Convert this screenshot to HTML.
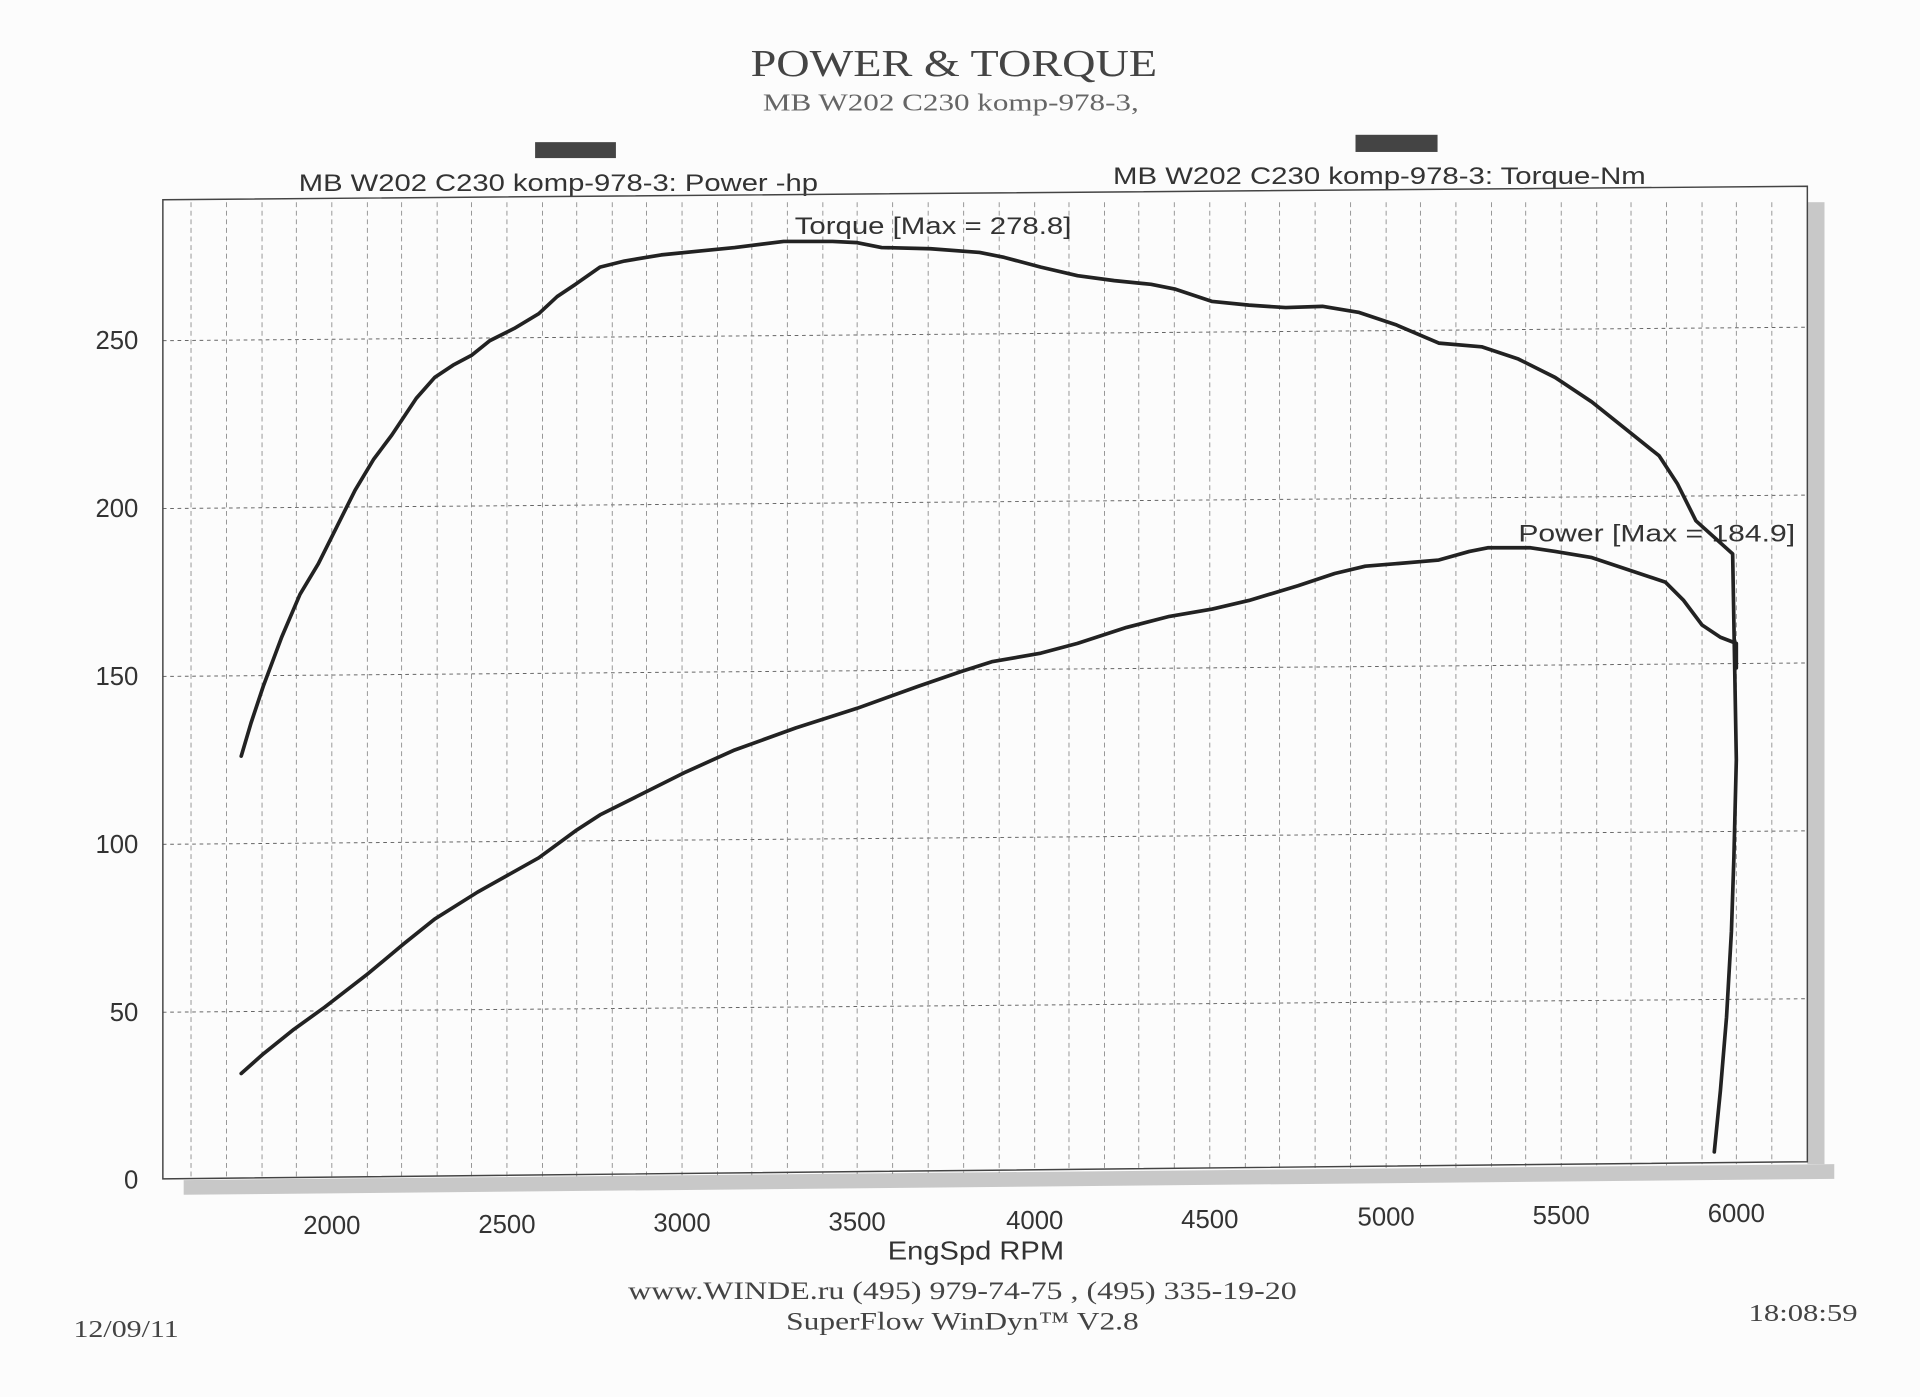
<!DOCTYPE html>
<html><head><meta charset="utf-8"><style>
html,body{margin:0;padding:0;background:#fff;width:1920px;height:1397px;overflow:hidden}
svg{display:block}
</style></head><body>
<svg width="1920" height="1397" viewBox="0 0 1568 1140" preserveAspectRatio="none" xmlns="http://www.w3.org/2000/svg">
<rect width="1568" height="1140" fill="#fcfcfc"/>
<text x="613" y="62" textLength="332" lengthAdjust="spacingAndGlyphs" font-family="Liberation Serif, serif" font-size="31" fill="#444">POWER &amp; TORQUE</text>
<text x="623" y="90" textLength="307" lengthAdjust="spacingAndGlyphs" font-family="Liberation Serif, serif" font-size="20" fill="#666">MB W202 C230 komp-978-3,</text>
<rect x="437" y="116" width="66" height="13" fill="#444"/>
<rect x="1107" y="110" width="67" height="14" fill="#444"/>
<text x="244" y="156" textLength="424" lengthAdjust="spacingAndGlyphs" font-family="Liberation Sans, sans-serif" font-size="20" fill="#333">MB W202 C230 komp-978-3: Power -hp</text>
<text x="909" y="150" textLength="435" lengthAdjust="spacingAndGlyphs" font-family="Liberation Sans, sans-serif" font-size="20" fill="#333">MB W202 C230 komp-978-3: Torque-Nm</text>
<!-- shadows -->
<rect x="1476" y="165" width="14" height="785" fill="#c8c8c8"/>
<polygon points="150,963 1498,950 1498,962 150,975" fill="#c8c8c8"/>
<!-- grid -->
<g stroke="#666" stroke-width="0.8" stroke-dasharray="3,3">
<line x1="133" y1="826" x2="1476" y2="815"/>
<line x1="133" y1="689" x2="1476" y2="678"/>
<line x1="133" y1="552" x2="1476" y2="541"/>
<line x1="133" y1="415" x2="1476" y2="404"/>
<line x1="133" y1="278" x2="1476" y2="267"/>
</g>
<g stroke="#888" stroke-width="0.7" stroke-dasharray="4,3">
<line x1="156" y1="165" x2="156" y2="962"/><line x1="185" y1="165" x2="185" y2="962"/><line x1="214" y1="165" x2="214" y2="962"/><line x1="242" y1="165" x2="242" y2="962"/><line x1="271" y1="165" x2="271" y2="962"/><line x1="300" y1="165" x2="300" y2="961"/><line x1="328" y1="165" x2="328" y2="961"/><line x1="357" y1="165" x2="357" y2="961"/><line x1="385" y1="165" x2="385" y2="961"/><line x1="414" y1="165" x2="414" y2="960"/><line x1="443" y1="165" x2="443" y2="960"/><line x1="471" y1="165" x2="471" y2="960"/><line x1="500" y1="165" x2="500" y2="960"/><line x1="528" y1="165" x2="528" y2="959"/><line x1="557" y1="165" x2="557" y2="959"/><line x1="586" y1="165" x2="586" y2="959"/><line x1="614" y1="165" x2="614" y2="959"/><line x1="643" y1="165" x2="643" y2="958"/><line x1="672" y1="165" x2="672" y2="958"/><line x1="700" y1="165" x2="700" y2="958"/><line x1="729" y1="165" x2="729" y2="958"/><line x1="758" y1="165" x2="758" y2="957"/><line x1="787" y1="165" x2="787" y2="957"/><line x1="816" y1="165" x2="816" y2="957"/><line x1="845" y1="165" x2="845" y2="956"/><line x1="873" y1="165" x2="873" y2="956"/><line x1="902" y1="165" x2="902" y2="956"/><line x1="930" y1="165" x2="930" y2="956"/><line x1="959" y1="165" x2="959" y2="955"/><line x1="988" y1="165" x2="988" y2="955"/><line x1="1017" y1="165" x2="1017" y2="955"/><line x1="1045" y1="165" x2="1045" y2="954"/><line x1="1074" y1="165" x2="1074" y2="954"/><line x1="1103" y1="165" x2="1103" y2="954"/><line x1="1132" y1="165" x2="1132" y2="953"/><line x1="1160" y1="165" x2="1160" y2="953"/><line x1="1189" y1="165" x2="1189" y2="953"/><line x1="1218" y1="165" x2="1218" y2="952"/><line x1="1246" y1="165" x2="1246" y2="952"/><line x1="1275" y1="165" x2="1275" y2="952"/><line x1="1304" y1="165" x2="1304" y2="951"/><line x1="1332" y1="165" x2="1332" y2="951"/><line x1="1361" y1="165" x2="1361" y2="951"/><line x1="1390" y1="165" x2="1390" y2="950"/><line x1="1418" y1="165" x2="1418" y2="950"/><line x1="1447" y1="165" x2="1447" y2="950"/>
</g>
<polygon points="133,163 1476,152 1476,948 133,962" fill="none" stroke="#444" stroke-width="1.2"/>
<g font-family="Liberation Sans, sans-serif" font-size="21" fill="#333" text-anchor="end">
<text x="113" y="970">0</text><text x="113" y="833">50</text><text x="113" y="696">100</text><text x="113" y="559">150</text><text x="113" y="422">200</text><text x="113" y="285">250</text>
</g>
<g font-family="Liberation Sans, sans-serif" font-size="21" fill="#333" text-anchor="middle">
<text x="271" y="1007">2000</text><text x="414" y="1006">2500</text><text x="557" y="1005">3000</text><text x="700" y="1004">3500</text><text x="845" y="1003">4000</text><text x="988" y="1002">4500</text><text x="1132" y="1000">5000</text><text x="1275" y="999">5500</text><text x="1418" y="997">6000</text>
</g>
<text x="725" y="1028" textLength="144" lengthAdjust="spacingAndGlyphs" font-family="Liberation Sans, sans-serif" font-size="21" fill="#333">EngSpd RPM</text>
<text x="649" y="191" textLength="226" lengthAdjust="spacingAndGlyphs" font-family="Liberation Sans, sans-serif" font-size="20" fill="#333">Torque [Max = 278.8]</text>
<text x="1240" y="442" textLength="226" lengthAdjust="spacingAndGlyphs" font-family="Liberation Sans, sans-serif" font-size="20" fill="#333">Power  [Max = 184.9]</text>
<g fill="none" stroke="#222" stroke-width="3" stroke-linejoin="round" stroke-linecap="round">
<polyline points="197,617 205,590 215,560 230,520 245,485 260,460 275,430 290,400 305,375 320,355 340,325 355,308 370,298 385,290 400,278 420,268 440,256 455,242 470,232 490,218 510,213 540,208 570,205 600,202 640,197 680,197 700,198 720,202 760,203 800,206 820,210 850,218 880,225 910,229 940,232 960,236 990,246 1020,249 1050,251 1080,250 1110,255 1140,265 1175,280 1210,283 1240,293 1270,308 1300,328 1330,352 1355,372 1370,395 1385,425 1415,452 1418,620 1416,700 1414,760 1410,830 1405,890 1400,940"/>
<polyline points="197,876 215,860 240,840 265,822 300,795 330,770 355,750 390,728 440,700 470,678 490,665 520,650 560,630 600,612 650,594 700,578 750,560 785,548 810,540 850,533 880,525 920,512 955,503 990,497 1020,490 1060,478 1090,468 1115,462 1140,460 1175,457 1200,450 1215,447 1250,447 1270,450 1300,455 1330,465 1360,475 1375,490 1390,510 1405,520 1418,525 1418,545"/>
</g>
<text x="513" y="1060" textLength="546" lengthAdjust="spacingAndGlyphs" font-family="Liberation Serif, serif" font-size="21" fill="#444">www.WINDE.ru  (495) 979-74-75 , (495) 335-19-20</text>
<text x="642" y="1085" textLength="288" lengthAdjust="spacingAndGlyphs" font-family="Liberation Serif, serif" font-size="21" fill="#444">SuperFlow WinDyn™ V2.8</text>
<text x="60" y="1091" textLength="86" lengthAdjust="spacingAndGlyphs" font-family="Liberation Serif, serif" font-size="20" fill="#444">12/09/11</text>
<text x="1428" y="1078" textLength="89" lengthAdjust="spacingAndGlyphs" font-family="Liberation Serif, serif" font-size="20" fill="#444">18:08:59</text>
</svg>
</body></html>
